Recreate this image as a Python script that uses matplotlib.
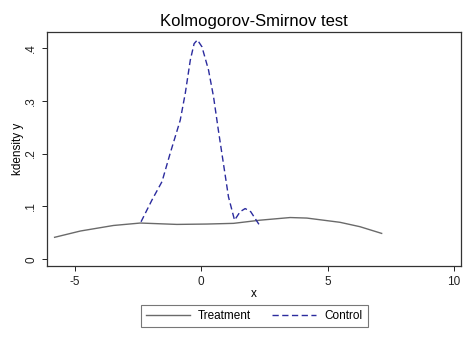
import matplotlib.pyplot as plt

plt.rcParams['font.family'] = ['Liberation Sans', 'DejaVu Sans']
plt.rcParams['axes.unicode_minus'] = False

# kernel density estimates read off the two groups
treat_x = [-5.8, -4.78, -3.47, -2.41, -0.96, 0.22, 1.28, 2.33, 3.52, 4.18, 5.49, 6.28, 7.14]
treat_y = [0.0416, 0.0535, 0.064, 0.0686, 0.066, 0.0667, 0.068, 0.074, 0.079, 0.078, 0.070, 0.0617, 0.049]

ctrl_x = [-2.38, -1.95, -1.55, -1.23, -0.83, -0.63, -0.43, -0.28, -0.15, 0.03, 0.29, 0.49,
          0.68, 0.88, 1.08, 1.32, 1.54, 1.74, 1.96, 2.30]
ctrl_y = [0.071, 0.112, 0.147, 0.200, 0.263, 0.314, 0.377, 0.408, 0.415, 0.402, 0.358, 0.307,
          0.244, 0.181, 0.118, 0.074, 0.090, 0.096, 0.090, 0.065]

xticks = [-5, 0, 5, 10]
yticks = [0, 0.1, 0.2, 0.3, 0.4]
ylabels = ["0", ".1", ".2", ".3", ".4"]

fig = plt.figure(figsize=(4.74, 3.44), dpi=100)
ax = fig.add_axes([0.0992, 0.2267, 0.8734, 0.6803])

ax.plot(treat_x, treat_y, color="#6a6a6a", lw=1.0, label="Treatment")
ax.plot(ctrl_x, ctrl_y, color="#2b2b9e", lw=1.0, dashes=(4.5, 2.5), label="Control")

ax.set_xlim(-6.1, 10.28)
ax.set_ylim(-0.0127, 0.43)
ax.set_xticks(xticks)
ax.set_yticks(yticks)
ax.set_yticklabels(ylabels, rotation=90, va="center")
ax.tick_params(direction="out", length=3.5, width=0.7, labelsize=8.5, colors="#222222")
for s in ax.spines.values():
    s.set_linewidth(0.9)
    s.set_color("#333333")

ax.set_title("Kolmogorov-Smirnov test", fontsize=12, pad=4)
ax.set_xlabel("x", fontsize=8.5, labelpad=0)
ax.set_ylabel("kdensity y", fontsize=8.5, labelpad=1)

leg = fig.legend(loc="center", bbox_to_anchor=(0.536, 0.081), ncol=2, fontsize=8.5,
                 frameon=True, fancybox=False, handlelength=3.7, handletextpad=0.7,
                 columnspacing=1.8, borderpad=0.45, borderaxespad=0,
                 edgecolor="#555555")
leg.get_frame().set_linewidth(0.8)

fig.savefig("out.png", dpi=100)
